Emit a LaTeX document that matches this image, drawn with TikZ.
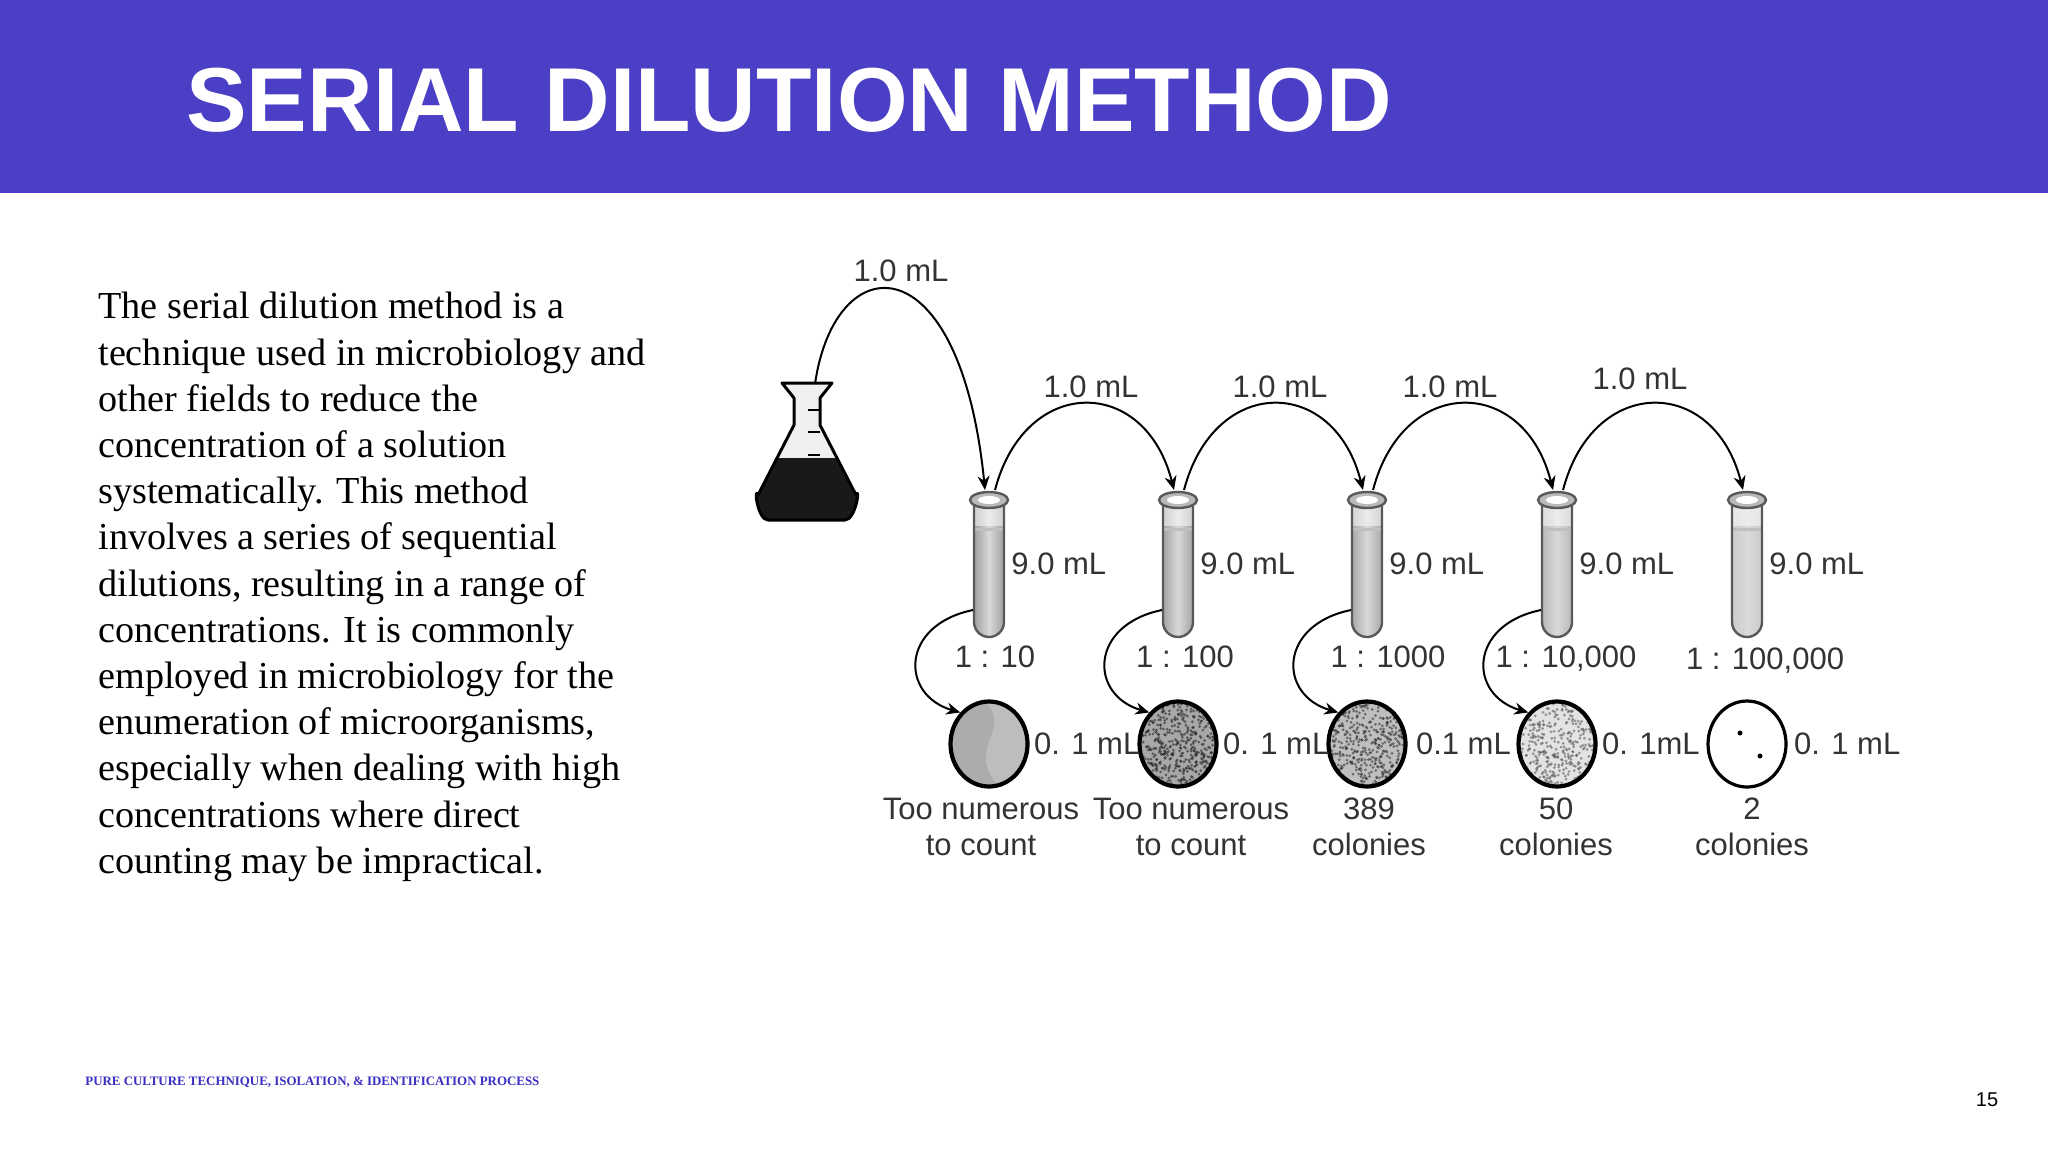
\documentclass[tikz,border=0pt]{standalone}
\usepackage{fontspec}
\setmainfont{Liberation Serif}
\newfontfamily\hv{Liberation Sans}
\usetikzlibrary{shapes.geometric,arrows.meta}
\definecolor{band}{HTML}{4B3FC6}
\definecolor{foot}{HTML}{3A2FC0}
\tikzset{
  lbl/.style={font=\hv\fontsize{15.5pt}{18pt}\selectfont, text=black!80, inner sep=0pt},
  plate/.style={ellipse, draw=black, line width=1.6pt, minimum width=39pt, minimum height=43pt, inner sep=0pt},
  conn/.style={-{Stealth[length=7pt,width=6pt]}, line width=1pt, black}
}
\begin{document}
\begin{tikzpicture}[x=0.5pt,y=-0.5pt]
\useasboundingbox (0,0) rectangle (2048,1152);
\fill[white] (0,0) rectangle (2048,1152);
\fill[band] (0,0) rectangle (2048,193);
\node[anchor=base west, inner sep=0pt, text=white, font=\hv\bfseries\fontsize{45.4pt}{50pt}\selectfont] (title) at (186,131) {SERIAL DILUTION METHOD};
\node[anchor=north west, inner sep=0pt, align=left, font=\fontsize{19.1pt}{23.1pt}\selectfont] (body) at (98,292)
{The serial dilution method is a\\technique used in microbiology and\\other fields to reduce the\\concentration of a solution\\systematically. This method\\involves a series of sequential\\dilutions, resulting in a range of\\concentrations. It is commonly\\employed in microbiology for the\\enumeration of microorganisms,\\especially when dealing with high\\concentrations where direct\\counting may be impractical.};
\node[anchor=west, inner sep=0pt, text=foot] (footer) at (85,1082) {\resizebox{227pt}{!}{\bfseries\fontsize{6pt}{7pt}\selectfont PURE CULTURE TECHNIQUE, ISOLATION, \& IDENTIFICATION PROCESS}};
\node[anchor=center, inner sep=0pt, font=\hv\fontsize{10pt}{12pt}\selectfont] (pg) at (1987,1100) {15};
% flask
\def\flaskpath{(782,383) -- (832,383) -- (820,398) -- (820,425) -- (856,495) to[out=65,in=0] (845,520) -- (768,520) to[out=180,in=115] (758,495) -- (794,425) -- (794,398) -- cycle}
\fill[gray!12] \flaskpath;
\begin{scope}
\clip \flaskpath;
\fill[black!90] (740,458) rectangle (870,530);
\end{scope}
\draw[line width=1.5pt, line join=round] \flaskpath;
\foreach \yy in {410,432,455} \draw[line width=1.2pt] (820,\yy) -- (808,\yy);
\coordinate (flask) at (815,384);
% tubes
\foreach \cx/\sh in {989/75,1178/72,1367/68,1557/55,1747/40}{
  \shade[left color=gray!\sh, right color=gray!\sh, middle color=gray!30]
     (\cx-15,505) -- (\cx-15,622) arc[start angle=180,end angle=0,radius=15] -- (\cx+15,505) -- cycle;
  \fill[white,opacity=0.5] (\cx-15,505) rectangle (\cx+15,526);
  \draw[gray!50,line width=1.5pt] (\cx-15,529) -- (\cx+15,529);
  \draw[black!65,line width=1.2pt] (\cx-15,505) -- (\cx-15,622) arc[start angle=180,end angle=0,radius=15] -- (\cx+15,505);
  \draw[black!65,fill=gray!55,line width=1.2pt] (\cx,500) ellipse[x radius=19,y radius=8];
  \fill[white] (\cx,500) ellipse[x radius=11,y radius=4];
  \node[lbl, anchor=west] at (\cx+22,564) {9.0 mL};
}
\coordinate (tin1) at (985,490); \coordinate (tout1) at (995,490); \coordinate (tside1) at (973,610);
\coordinate (tin2) at (1174,490); \coordinate (tout2) at (1184,490); \coordinate (tside2) at (1162,610);
\coordinate (tin3) at (1363,490); \coordinate (tout3) at (1373,490); \coordinate (tside3) at (1351,610);
\coordinate (tin4) at (1553,490); \coordinate (tout4) at (1563,490); \coordinate (tside4) at (1541,610);
\coordinate (tin5) at (1743,490);
% plates
\node[plate, fill=gray!65] (p1) at (989,744) {};
\begin{scope}
\clip (989,744) ellipse[x radius=38,y radius=42];
\fill[gray!52] (985,702) .. controls (1015,730) and (960,750) .. (1003,790) -- (1040,790) -- (1040,700) -- cycle;
\end{scope}
\draw[line width=1.6pt] (989,744) ellipse[x radius=38,y radius=42];
\pgfmathsetseed{7}
\foreach \i/\cx/\base/\dot/\n in {2/1178/68/85/500,3/1367/50/80/450,4/1557/22/65/380}{
  \node[plate, fill=gray!\base] (p\i) at (\cx,744) {};
  \begin{scope}
  \clip (\cx,744) ellipse[x radius=37,y radius=41];
  \foreach \k in {1,...,\n}{
    \pgfmathsetmacro{\ax}{\cx+rand*37}
    \pgfmathsetmacro{\ay}{744+rand*41}
    \fill[black!\dot,opacity=0.6] (\ax,\ay) circle[radius=1.5];
  }
  \end{scope}
  \draw[line width=1.6pt] (\cx,744) ellipse[x radius=38,y radius=42];
}
\node[plate, fill=white] (p5) at (1747,744) {};
\fill (1740,733) circle[radius=2.5];
\fill (1760,756) circle[radius=2.5];
% ratios
\node[lbl] (r1) at (995,657) {1 : 10};
\node[lbl] (r2) at (1185,657) {1 : 100};
\node[lbl] (r3) at (1388,657) {1 : 1000};
\node[lbl] (r4) at (1566,659) {1 : 10,000};
\node[lbl] (r5) at (1765,661) {1 : 100,000};
% volumes
\node[lbl, anchor=west] (m1) at ([xshift=2pt]p1.east) {0. 1 mL};
\node[lbl, anchor=west] (m2) at ([xshift=2pt]p2.east) {0. 1 mL};
\node[lbl, anchor=west] (m3) at ([xshift=4pt]p3.east) {0.1 mL};
\node[lbl, anchor=west] (m4) at ([xshift=2pt]p4.east) {0. 1mL};
\node[lbl, anchor=west] (m5) at ([xshift=3pt]p5.east) {0. 1 mL};
% captions
\node[lbl, align=center] (c1) at (981,827) {Too numerous\\to count};
\node[lbl, align=center] (c2) at (1191,827) {Too numerous\\to count};
\node[lbl, align=center] (c3) at (1369,827) {389\\colonies};
\node[lbl, align=center] (c4) at (1556,827) {50\\colonies};
\node[lbl, align=center] (c5) at (1752,827) {2\\colonies};
% top labels
\node[lbl] (a0) at (901,271) {1.0 mL};
\node[lbl] (a1) at (1091,387) {1.0 mL};
\node[lbl] (a2) at (1280,387) {1.0 mL};
\node[lbl] (a3) at (1450,387) {1.0 mL};
\node[lbl] (a4) at (1640,379) {1.0 mL};
% connectors
\draw[conn] (flask) .. controls (835,245) and (960,240) .. (tin1);
\draw[conn] (tout1) .. controls (1025,375) and (1145,375) .. (tin2);
\draw[conn] (tout2) .. controls (1214,375) and (1334,375) .. (tin3);
\draw[conn] (tout3) .. controls (1403,375) and (1524,375) .. (tin4);
\draw[conn] (tout4) .. controls (1593,375) and (1714,375) .. (tin5);
\draw[conn] (tside1) .. controls (900,625) and (900,695) .. (p1.north west);
\draw[conn] (tside2) .. controls (1089,625) and (1089,695) .. (p2.north west);
\draw[conn] (tside3) .. controls (1278,625) and (1278,695) .. (p3.north west);
\draw[conn] (tside4) .. controls (1468,625) and (1468,695) .. (p4.north west);
\end{tikzpicture}
\end{document}
